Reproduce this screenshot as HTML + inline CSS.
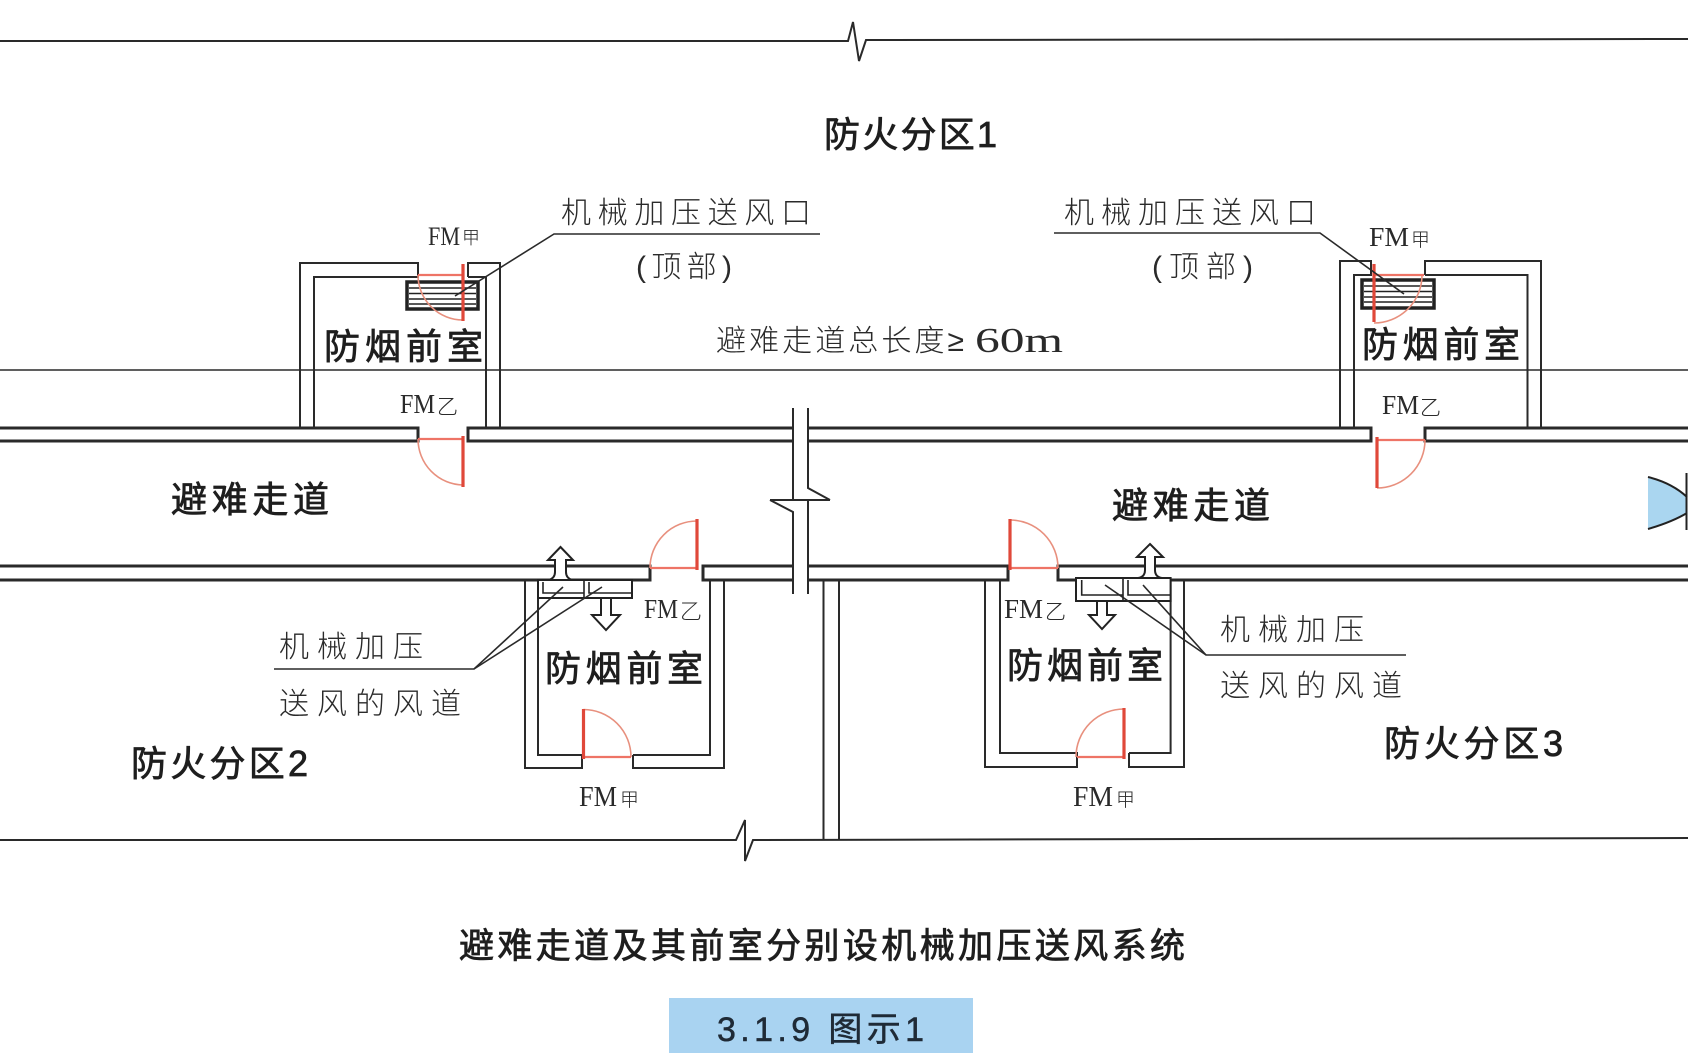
<!DOCTYPE html>
<html><head><meta charset="utf-8">
<style>
html,body{margin:0;padding:0;background:#fff;}
svg{display:block;}
.b{font-family:"Liberation Sans","Noto Sans CJK SC",sans-serif;font-weight:400;fill:#1e1e1e;stroke:#1e1e1e;stroke-width:0.75;}
.t{font-family:"Liberation Sans","Noto Sans CJK SC",sans-serif;font-weight:300;fill:#2a2a2a;}
.fm{font-family:"Liberation Serif",serif;fill:#2a2a2a;}
.c{font-family:"Noto Sans CJK SC",sans-serif;font-weight:300;fill:#2a2a2a;}
</style></head>
<body>
<svg width="1688" height="1055" viewBox="0 0 1688 1055" xmlns="http://www.w3.org/2000/svg">
<rect width="1688" height="1055" fill="#fff"/>

<!-- zone boundary lines -->
<g stroke="#2a2a2a" stroke-width="2" fill="none">
  <polyline points="0,41 848,41 853,22 859,61 866,40 1688,39"/>
  <polyline points="0,840 736,840 745,820 745,861 753,840 1688,838"/>
  <line x1="0" y1="370" x2="1688" y2="370" stroke-width="1.6"/>
</g>

<!-- corridor walls -->
<g stroke="#2a2a2a" stroke-width="3" fill="none">
  <polyline points="0,428 418,428 418,441 0,441"/>
  <polyline points="793,428 468,428 468,441 793,441"/>
  <polyline points="808,428 1371,428 1371,441 808,441"/>
  <polyline points="1688,428 1425,428 1425,441 1688,441"/>
  <polyline points="0,566 650,566 650,580 0,580"/>
  <polyline points="793,566 703,566 703,580 793,580"/>
  <polyline points="808,566 1008,566 1008,580 808,580"/>
  <polyline points="1688,566 1058,566 1058,580 1688,580"/>
</g>

<!-- central break -->
<g stroke="#2a2a2a" stroke-width="2" fill="none">
  <polyline points="793,408 793,500"/>
  <line x1="770" y1="500" x2="830" y2="500"/>
  <polyline points="770,500 793,512 793,594"/>
  <polyline points="808,408 808,488 830,500"/>
  <line x1="808" y1="500" x2="808" y2="594"/>
  <line x1="823.5" y1="580" x2="823.5" y2="840"/>
  <line x1="839" y1="580" x2="839" y2="839"/>
</g>

<!-- antechambers walls -->
<g stroke="#2a2a2a" stroke-width="2" fill="none">
  <polyline points="300,428 300,263 418,263 418,277 314,277 314,428"/>
  <polyline points="468,277 468,263 500,263 500,428"/>
  <polyline points="468,277 486,277 486,428"/>
  <polyline points="1340,428 1340,261 1371,261 1371,275 1354,275 1354,428"/>
  <polyline points="1425,275 1425,261 1541,261 1541,428"/>
  <polyline points="1425,275 1527.5,275 1527.5,428"/>
  <polyline points="525,580 525,768 582,768 582,755 538,755 538,580"/>
  <polyline points="633,755 633,768 724,768 724,580"/>
  <polyline points="633,755 710,755 710,580"/>
  <polyline points="985,580 985,767 1077,767 1077,753 1000,753 1000,580"/>
  <polyline points="1129,753 1129,767 1184,767 1184,580"/>
  <polyline points="1129,753 1170.6,753 1170.6,580"/>
</g>

<!-- vents (top) -->
<g stroke="#222" fill="#fff">
  <rect x="407" y="282" width="71" height="27" stroke-width="3.5"/>
  <rect x="1362" y="280" width="72" height="28" stroke-width="3.5"/>
</g>
<g stroke="#222" stroke-width="1.6">
  <line x1="409" y1="288" x2="476" y2="288"/><line x1="409" y1="293.5" x2="476" y2="293.5"/>
  <line x1="409" y1="299" x2="476" y2="299"/><line x1="409" y1="304" x2="476" y2="304"/>
  <line x1="1364" y1="286" x2="1432" y2="286"/><line x1="1364" y1="291.5" x2="1432" y2="291.5"/>
  <line x1="1364" y1="297" x2="1432" y2="297"/><line x1="1364" y1="302" x2="1432" y2="302"/>
</g>

<!-- doors -->
<g fill="none">
  <g stroke="#e8907e" stroke-width="1.6">
    <path d="M418,275 A45,45 0 0,0 463,320"/>
    <path d="M418,439 A46,46 0 0,0 463,485"/>
    <path d="M1422,275 A48,48 0 0,1 1374,323"/>
    <path d="M1425,440 A48,48 0 0,1 1377,488"/>
    <path d="M650,568 A47,47 0 0,1 697,521"/>
    <path d="M583.5,709.5 A47.5,47.5 0 0,1 631,757"/>
    <path d="M1010,520 A48,48 0 0,1 1058,568"/>
    <path d="M1076,757 A48,48 0 0,1 1124,709"/>
  </g>
  <g stroke="#ee7466" stroke-width="2.2">
    <line x1="418" y1="275" x2="463" y2="275"/>
    <line x1="418" y1="439" x2="463" y2="439"/>
    <line x1="1374" y1="275" x2="1424" y2="275"/>
    <line x1="1377" y1="440" x2="1425" y2="440"/>
    <line x1="650" y1="568" x2="697" y2="568"/>
    <line x1="583.5" y1="757" x2="631" y2="757"/>
    <line x1="1010" y1="568" x2="1058" y2="568"/>
    <line x1="1077" y1="757" x2="1124" y2="757"/>
  </g>
  <g stroke="#e0483a" stroke-width="3.2">
    <line x1="463" y1="264" x2="463" y2="321"/>
    <line x1="463" y1="436" x2="463" y2="487"/>
    <line x1="1374" y1="264" x2="1374" y2="322"/>
    <line x1="1377" y1="437" x2="1377" y2="488"/>
    <line x1="697" y1="519" x2="697" y2="570"/>
    <line x1="583.5" y1="709" x2="583.5" y2="759"/>
    <line x1="1010" y1="519" x2="1010" y2="570"/>
    <line x1="1124" y1="708" x2="1124" y2="759"/>
  </g>
</g>

<!-- ducts -->
<g stroke="#222" stroke-width="2" fill="#fff">
  <rect x="538" y="580" width="94" height="18"/>
  <rect x="1076" y="578" width="94.6" height="23"/>
</g>
<g stroke="#222" stroke-width="1.6" fill="none">
  <line x1="584" y1="580" x2="584" y2="598"/>
  <polyline points="543,582 543,593 584,593"/>
  <polyline points="589,582 589,593 632,593"/>
  <line x1="1123" y1="578" x2="1123" y2="601"/>
  <polyline points="1081.7,580 1081.7,595 1123,595"/>
  <polyline points="1128,580 1128,595 1170,595"/>
</g>
<!-- arrows -->
<g stroke="#222" stroke-width="2" fill="#fff" stroke-linejoin="miter">
  <path d="M560.5,547 L573,560 L566,560 L566,572 Q566,578 572,580 L549,580 Q555,578 555,572 L555,560 L548,560 Z"/>
  <path d="M601,598 L611,598 L611,615 L620,615 L606,630 L592,615 L601,615 Z"/>
  <path d="M1150,544 L1163,557 L1155,557 L1155,570 Q1155,577 1162,578 L1138,578 Q1145,577 1145,570 L1145,557 L1137,557 Z"/>
  <path d="M1097,601 L1107,601 L1107,615 L1115,615 L1102,629 L1089,615 L1097,615 Z"/>
</g>

<!-- leaders -->
<g stroke="#2a2a2a" stroke-width="1.6" fill="none">
  <polyline points="455,296 554,234 820,234"/>
  <polyline points="1404,294 1320,233 1054,233"/>
  <polyline points="563,587 474,669 274,669"/>
  <line x1="602" y1="587" x2="474" y2="669"/>
  <polyline points="1105,585 1206,655 1406,655"/>
  <line x1="1143" y1="585" x2="1206" y2="655"/>
</g>

<!-- blue horn at right edge -->
<path d="M1648,478 Q1672,484 1687,498 L1687,512 Q1672,522 1648,528 Z" fill="#aad6f0"/>
<g stroke="#222" stroke-width="2" fill="none">
  <path d="M1648,477 Q1672,483 1687,497"/>
  <path d="M1648,529 Q1672,522 1687,513"/>
  <line x1="1686.5" y1="473" x2="1686.5" y2="530"/>
</g>

<!-- labels -->
<text class="b" x="824" y="147" font-size="36" textLength="173" lengthAdjust="spacing">防火分区1</text>

<text class="t" x="561" y="223" font-size="30" textLength="250" lengthAdjust="spacing">机械加压送风口</text>
<text class="t" x="636" y="277" font-size="30" textLength="96" lengthAdjust="spacing">(顶部)</text>
<text class="t" x="1064" y="223" font-size="30" textLength="252" lengthAdjust="spacing">机械加压送风口</text>
<text class="t" x="1152" y="277" font-size="30" textLength="101" lengthAdjust="spacing">(顶部)</text>

<text class="t" x="716" y="351" font-size="30" textLength="248" lengthAdjust="spacing">避难走道总长度≥</text>
<text class="fm" x="975" y="352" font-size="35" textLength="88" lengthAdjust="spacingAndGlyphs">60m</text>

<text class="b" x="324" y="359" font-size="36" textLength="159" lengthAdjust="spacing">防烟前室</text>
<text class="b" x="1362" y="357" font-size="36" textLength="158" lengthAdjust="spacing">防烟前室</text>
<text class="b" x="545" y="681" font-size="36" textLength="158" lengthAdjust="spacing">防烟前室</text>
<text class="b" x="1007" y="678" font-size="36" textLength="156" lengthAdjust="spacing">防烟前室</text>

<text class="b" x="171" y="512" font-size="36" textLength="158" lengthAdjust="spacing">避难走道</text>
<text class="b" x="1112" y="518" font-size="36" textLength="158" lengthAdjust="spacing">避难走道</text>

<text class="t" x="279" y="657" font-size="30" textLength="144" lengthAdjust="spacing">机械加压</text>
<text class="t" x="279" y="714" font-size="30" textLength="182" lengthAdjust="spacing">送风的风道</text>
<text class="t" x="1220" y="640" font-size="30" textLength="144" lengthAdjust="spacing">机械加压</text>
<text class="t" x="1220" y="696" font-size="30" textLength="182" lengthAdjust="spacing">送风的风道</text>

<text class="b" x="131" y="776" font-size="36" textLength="177" lengthAdjust="spacing">防火分区2</text>
<text class="b" x="1384" y="756" font-size="36" textLength="179" lengthAdjust="spacing">防火分区3</text>

<!-- FM labels -->
<text class="fm" x="428" y="245" font-size="26" textLength="32" lengthAdjust="spacingAndGlyphs">FM</text>
<text class="c" x="462" y="244" font-size="18">甲</text>
<text class="fm" x="400" y="413" font-size="27" textLength="35" lengthAdjust="spacingAndGlyphs">FM</text>
<text class="c" x="437" y="414" font-size="21">乙</text>
<text class="fm" x="1369" y="246" font-size="27" textLength="40" lengthAdjust="spacingAndGlyphs">FM</text>
<text class="c" x="1411" y="246" font-size="19">甲</text>
<text class="fm" x="1382" y="414" font-size="27" textLength="37" lengthAdjust="spacingAndGlyphs">FM</text>
<text class="c" x="1420" y="415" font-size="21">乙</text>
<text class="fm" x="644" y="618" font-size="27" textLength="34" lengthAdjust="spacingAndGlyphs">FM</text>
<text class="c" x="680" y="619" font-size="22">乙</text>
<text class="fm" x="579" y="806" font-size="28" textLength="38" lengthAdjust="spacingAndGlyphs">FM</text>
<text class="c" x="620" y="806" font-size="19">甲</text>
<text class="fm" x="1004" y="618" font-size="27" textLength="39" lengthAdjust="spacingAndGlyphs">FM</text>
<text class="c" x="1045" y="619" font-size="21">乙</text>
<text class="fm" x="1073" y="806" font-size="28" textLength="40" lengthAdjust="spacingAndGlyphs">FM</text>
<text class="c" x="1116" y="806" font-size="19">甲</text>

<!-- caption -->
<text class="b" x="459" y="958" font-size="35" textLength="726" lengthAdjust="spacing">避难走道及其前室分别设机械加压送风系统</text>

<!-- title box -->
<rect x="669" y="998" width="304" height="55" fill="#a9d3f1"/>
<text x="717" y="1041" font-family="'Liberation Sans','Noto Sans CJK SC',sans-serif" font-weight="400" font-size="34" fill="#1f2a36" stroke="#1f2a36" stroke-width="0.5" textLength="207" lengthAdjust="spacing">3.1.9 图示1</text>
</svg>
</body></html>
